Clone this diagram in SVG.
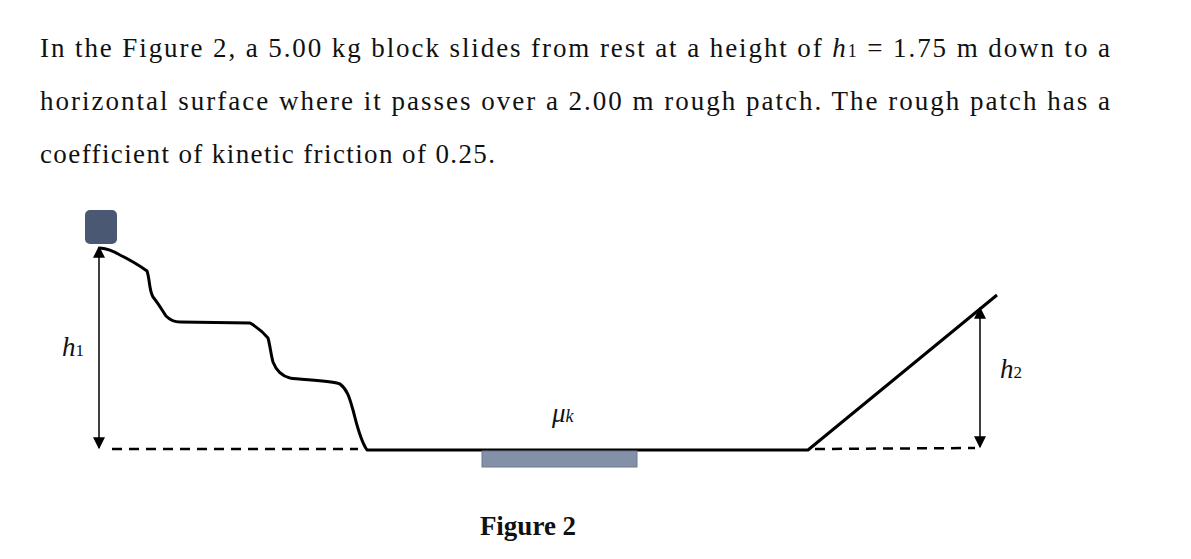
<svg xmlns="http://www.w3.org/2000/svg" width="1191" height="559" viewBox="0 0 1191 559">
<defs>
<marker id="ah" viewBox="0 0 10 10" refX="9" refY="5" markerWidth="14" markerHeight="12" markerUnits="userSpaceOnUse" orient="auto-start-reverse"><path d="M0,0 L10,5 L0,10 z" fill="#000"/></marker>
</defs>
<style>
.t{font-family:"Liberation Serif",serif;font-size:27px;fill:#111}
.i{font-family:"Liberation Serif",serif;font-style:italic;font-size:27px;fill:#111}
.s{fill:none;stroke:#000;stroke-width:3;stroke-linejoin:round}
.d{stroke:#000;stroke-width:2.5;stroke-dasharray:10,7}
.a{stroke:#000;stroke-width:1.5}
</style>
<rect width="1191" height="559" fill="#fff"/>
<text class="t" x="40" y="57" textLength="1070" lengthAdjust="spacing">In the Figure 2, a 5.00 kg block slides from rest at a height of <tspan font-style="italic">h</tspan><tspan font-size="18">1</tspan> = 1.75 m down to a</text>
<text class="t" x="40" y="110" textLength="1070" lengthAdjust="spacing">horizontal surface where it passes over a 2.00 m rough patch. The rough patch has a</text>
<text class="t" x="40" y="163" textLength="455" lengthAdjust="spacing">coefficient of kinetic friction of 0.25.</text>
<g id="block"><rect x="85" y="210" width="32" height="34" rx="5" fill="#4a5874"/></g>
<g id="surface">
<path class="s" d="M100,248 C110,249 115,252 120,255 C130,260 140,266 147,271 C150,280 149,290 153,297 C158,303 162,310 166,316 C170,320 174,322 180,322 L250,323 C257,327 262,331 268,338 C270,345 271,355 273,362 C276,370 282,376 290,378 C300,380 330,380 340,384 C348,390 350,400 353,410 C357,425 360,440 367,450 L808,450 L997,295"/>
<rect x="482" y="451" width="155" height="16" fill="#8391a8" stroke="#6a7a90" stroke-width="1"/>
</g>
<g id="connectors">
<line class="a" x1="99" y1="247" x2="99" y2="448" marker-start="url(#ah)" marker-end="url(#ah)"/>
<line class="a" x1="980" y1="308" x2="980" y2="447" marker-start="url(#ah)" marker-end="url(#ah)"/>
<line class="d" x1="112" y1="449" x2="358" y2="449"/>
<line class="d" x1="815" y1="449" x2="975" y2="448"/>
</g>
<g id="labels">
<text class="i" x="62" y="356">h<tspan font-size="17" font-style="normal">1</tspan></text>
<text class="i" x="1000" y="378">h<tspan font-size="17" font-style="normal">2</tspan></text>
<text class="i" x="552" y="422">μ<tspan font-size="18">k</tspan></text>
<text class="t" x="528" y="535" text-anchor="middle" font-weight="bold">Figure 2</text>
</g>
</svg>
